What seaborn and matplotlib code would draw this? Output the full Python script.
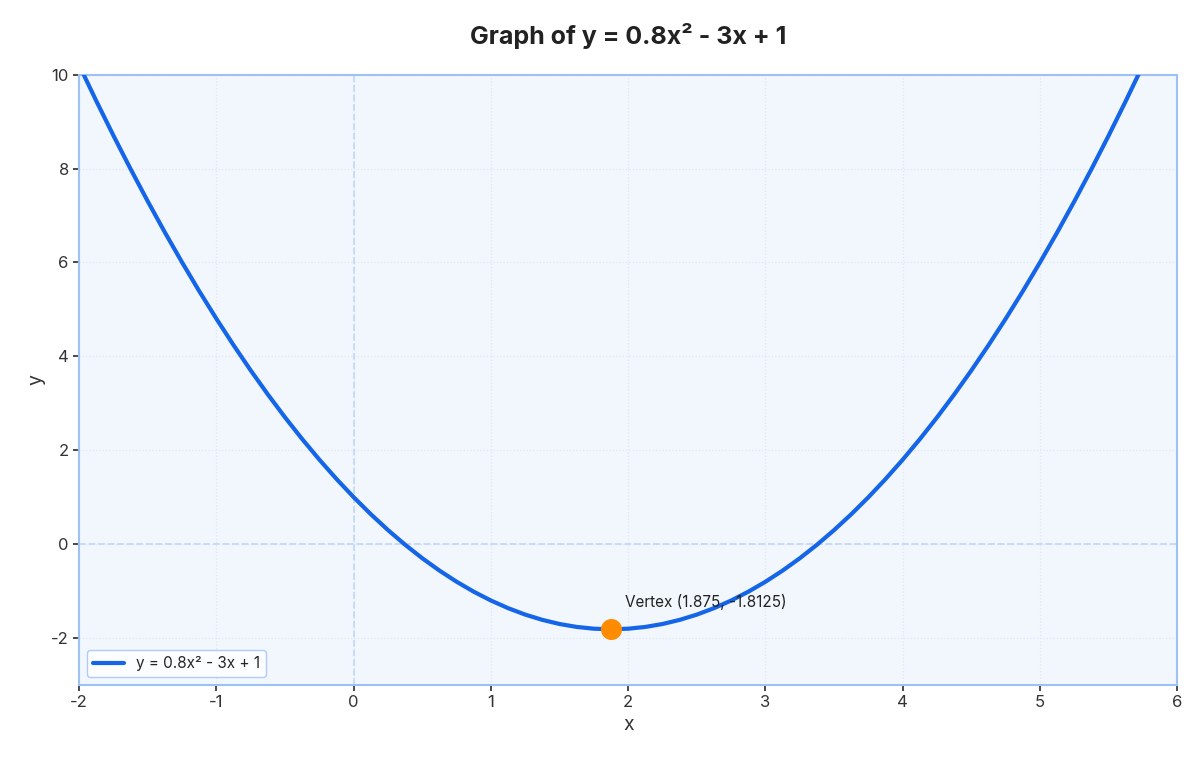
import matplotlib
matplotlib.use("Agg")
import matplotlib.pyplot as plt
import seaborn as sns
import pandas as pd

# Curve samples
x_values = [-2, -1.875, -1.75, -1.625, -1.5, -1.375, -1.25, -1.125, -1, -0.875,
            -0.75, -0.625, -0.5, -0.375, -0.25, -0.125, 0, 0.125, 0.25, 0.375,
            0.5, 0.625, 0.75, 0.875, 1, 1.125, 1.25, 1.375, 1.5, 1.625, 1.75,
            1.875, 2, 2.125, 2.25, 2.375, 2.5, 2.625, 2.75, 2.875, 3, 3.125,
            3.25, 3.375, 3.5, 3.625, 3.75, 3.875, 4, 4.125, 4.25, 4.375, 4.5,
            4.625, 4.75, 4.875, 5, 5.125, 5.25, 5.375, 5.5, 5.625, 5.75]
y_values = [10.2, 9.4375, 8.7, 7.9875, 7.3, 6.6375, 6.0, 5.3875, 4.8, 4.2375,
            3.7, 3.1875, 2.7, 2.2375, 1.8, 1.3875, 1.0, 0.6375, 0.3, -0.0125,
            -0.3, -0.5625, -0.8, -1.0125, -1.2, -1.3625, -1.5, -1.6125, -1.7, -1.7625, -1.8,
            -1.8125, -1.8, -1.7625, -1.7, -1.6125, -1.5, -1.3625, -1.2, -1.0125, -0.8, -0.5625,
            -0.3, -0.0125, 0.3, 0.6375, 1.0, 1.3875, 1.8, 2.2375, 2.7, 3.1875, 3.7,
            4.2375, 4.8, 5.3875, 6.0, 6.6375, 7.3, 7.9875, 8.7, 9.4375, 10.2]
vertex_x = [1.875]
vertex_y = [-1.8125]
x_ticks = [-2, -1, 0, 1, 2, 3, 4, 5, 6]
y_ticks = [-2, 0, 2, 4, 6, 8, 10]

sns.set_theme(style="white")
plt.rcParams["font.family"] = ["Inter", "DejaVu Sans"]
plt.rcParams["axes.unicode_minus"] = False

df = pd.DataFrame({"x": x_values, "y": y_values})

fig, ax = plt.subplots(figsize=(12, 7.62), dpi=100)
fig.subplots_adjust(left=0.066, right=0.981, top=0.902, bottom=0.101)
ax.set_facecolor("#f2f7fe")

ax.axhline(0, color="#c3d8fa", lw=1.3, ls="--", zorder=1)
ax.axvline(0, color="#c3d8fa", lw=1.3, ls="--", zorder=1)
ax.grid(True, color="#dde7f5", ls=":", lw=0.9)

sns.lineplot(data=df, x="x", y="y", ax=ax, color="#1565e8", lw=3,
             label="y = 0.8x² - 3x + 1", zorder=3)
ax.scatter(vertex_x, vertex_y, s=200, color="#ff8c00", zorder=4)
ax.annotate(f"Vertex ({vertex_x[0]}, {vertex_y[0]})", (vertex_x[0], vertex_y[0]),
            xytext=(10, 16), textcoords="offset points", fontsize=11, color="#222222")

ax.set_xlim(-2, 6)
ax.set_ylim(-3, 10)
ax.set_xticks(x_ticks)
ax.set_yticks(y_ticks)
ax.tick_params(labelsize=12, colors="#333333", length=4, left=True, bottom=True)
for s in ax.spines.values():
    s.set_color("#9dc0f5")
    s.set_linewidth(1.5)

ax.set_xlabel("x", fontsize=14, color="#333333")
ax.set_ylabel("y", fontsize=14, color="#333333")
ax.set_title("Graph of y = 0.8x² - 3x + 1", fontsize=18, fontweight="bold",
             color="#222222", pad=22)
leg = ax.legend(loc="lower left", fontsize=11, frameon=True)
leg.get_frame().set_edgecolor("#9dc0f5")
leg.get_frame().set_facecolor("white")

fig.savefig("out.png", dpi=100)
